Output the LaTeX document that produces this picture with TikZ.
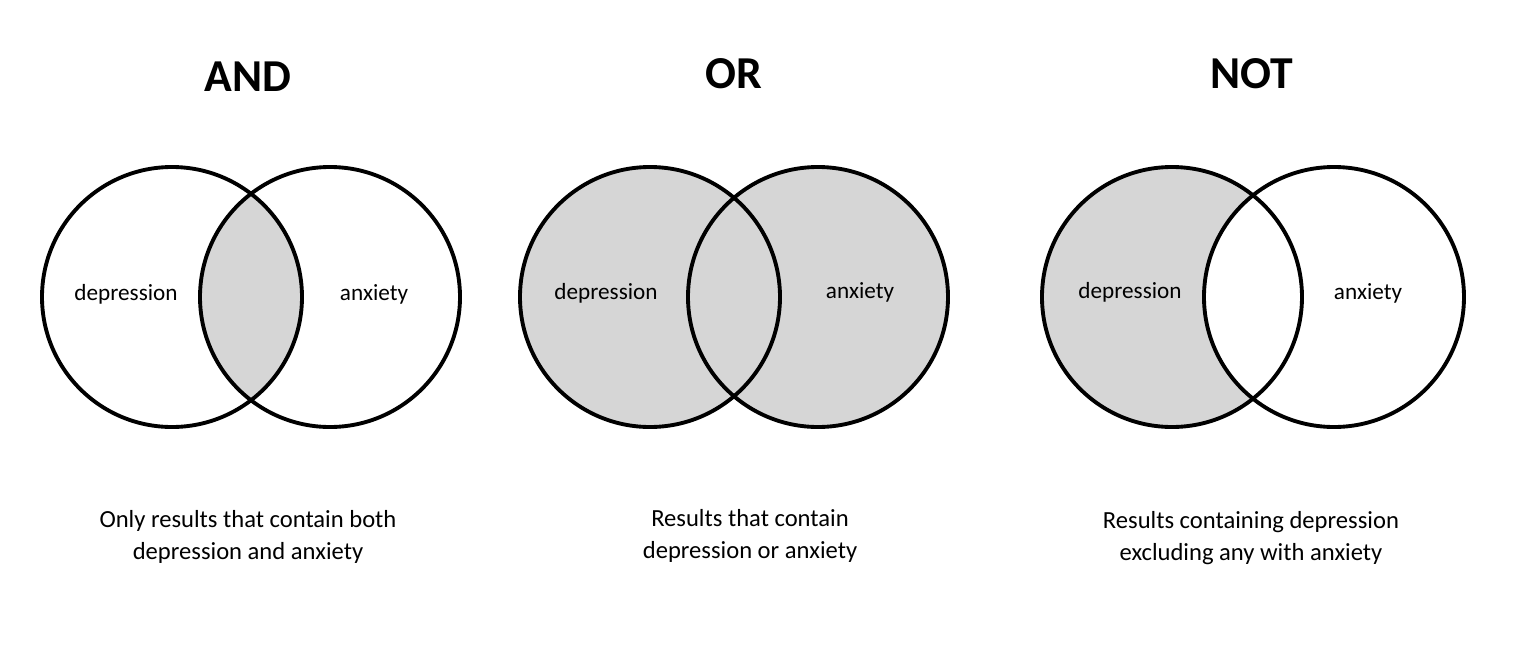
\documentclass[tikz,border=0pt]{standalone}
\usepackage{fontspec}
\setmainfont{Carlito}
\tikzset{
  set/.style={circle, draw, line width=1.1pt, minimum size=2.6cm, inner sep=0pt},
  title/.style={font=\fontsize{13}{15}\selectfont\bfseries},
  lbl/.style={font=\fontsize{6.6}{8}\selectfont},
  caption/.style={font=\fontsize{7}{9.2}\selectfont, align=center},
  shade/.style={fill=black!16}
}
\begin{document}
\begin{tikzpicture}
\useasboundingbox (0,0) rectangle (15.2,6.6);
% AND
\begin{scope}
  \clip (1.72,3.63) circle (1.3);
  \fill[shade] (3.30,3.63) circle (1.3);
\end{scope}
\node[set] (andA) at (1.72,3.63) {};
\node[set] (andB) at (3.30,3.63) {};
\node[lbl] at (1.26,3.66) {depression};
\node[lbl] at (3.74,3.66) {anxiety};
\node[title] (andT) at (2.48,5.83) {AND};
\node[caption] (andC) at (2.48,1.23) {Only results that contain both\\depression and anxiety};
% OR
\fill[shade] (6.50,3.63) circle (1.3) (8.18,3.63) circle (1.3);
\node[set] (orA) at (6.50,3.63) {};
\node[set] (orB) at (8.18,3.63) {};
\node[lbl] at (6.06,3.67) {depression};
\node[lbl] at (8.60,3.68) {anxiety};
\node[title] (orT) at (7.34,5.86) {OR};
\node[caption] (orC) at (7.50,1.24) {Results that contain\\depression or anxiety};
% NOT
\begin{scope}[even odd rule]
  \clip (13.34,3.63) circle (1.3) (10,1) rectangle (15.2,6.6);
  \fill[shade] (11.72,3.63) circle (1.3);
\end{scope}
\node[set] (notA) at (11.72,3.63) {};
\node[set] (notB) at (13.34,3.63) {};
\node[lbl] at (11.30,3.68) {depression};
\node[lbl] at (13.68,3.67) {anxiety};
\node[title] (notT) at (12.52,5.86) {NOT};
\node[caption] (notC) at (12.51,1.22) {Results containing depression\\excluding any with anxiety};
\end{tikzpicture}
\end{document}
